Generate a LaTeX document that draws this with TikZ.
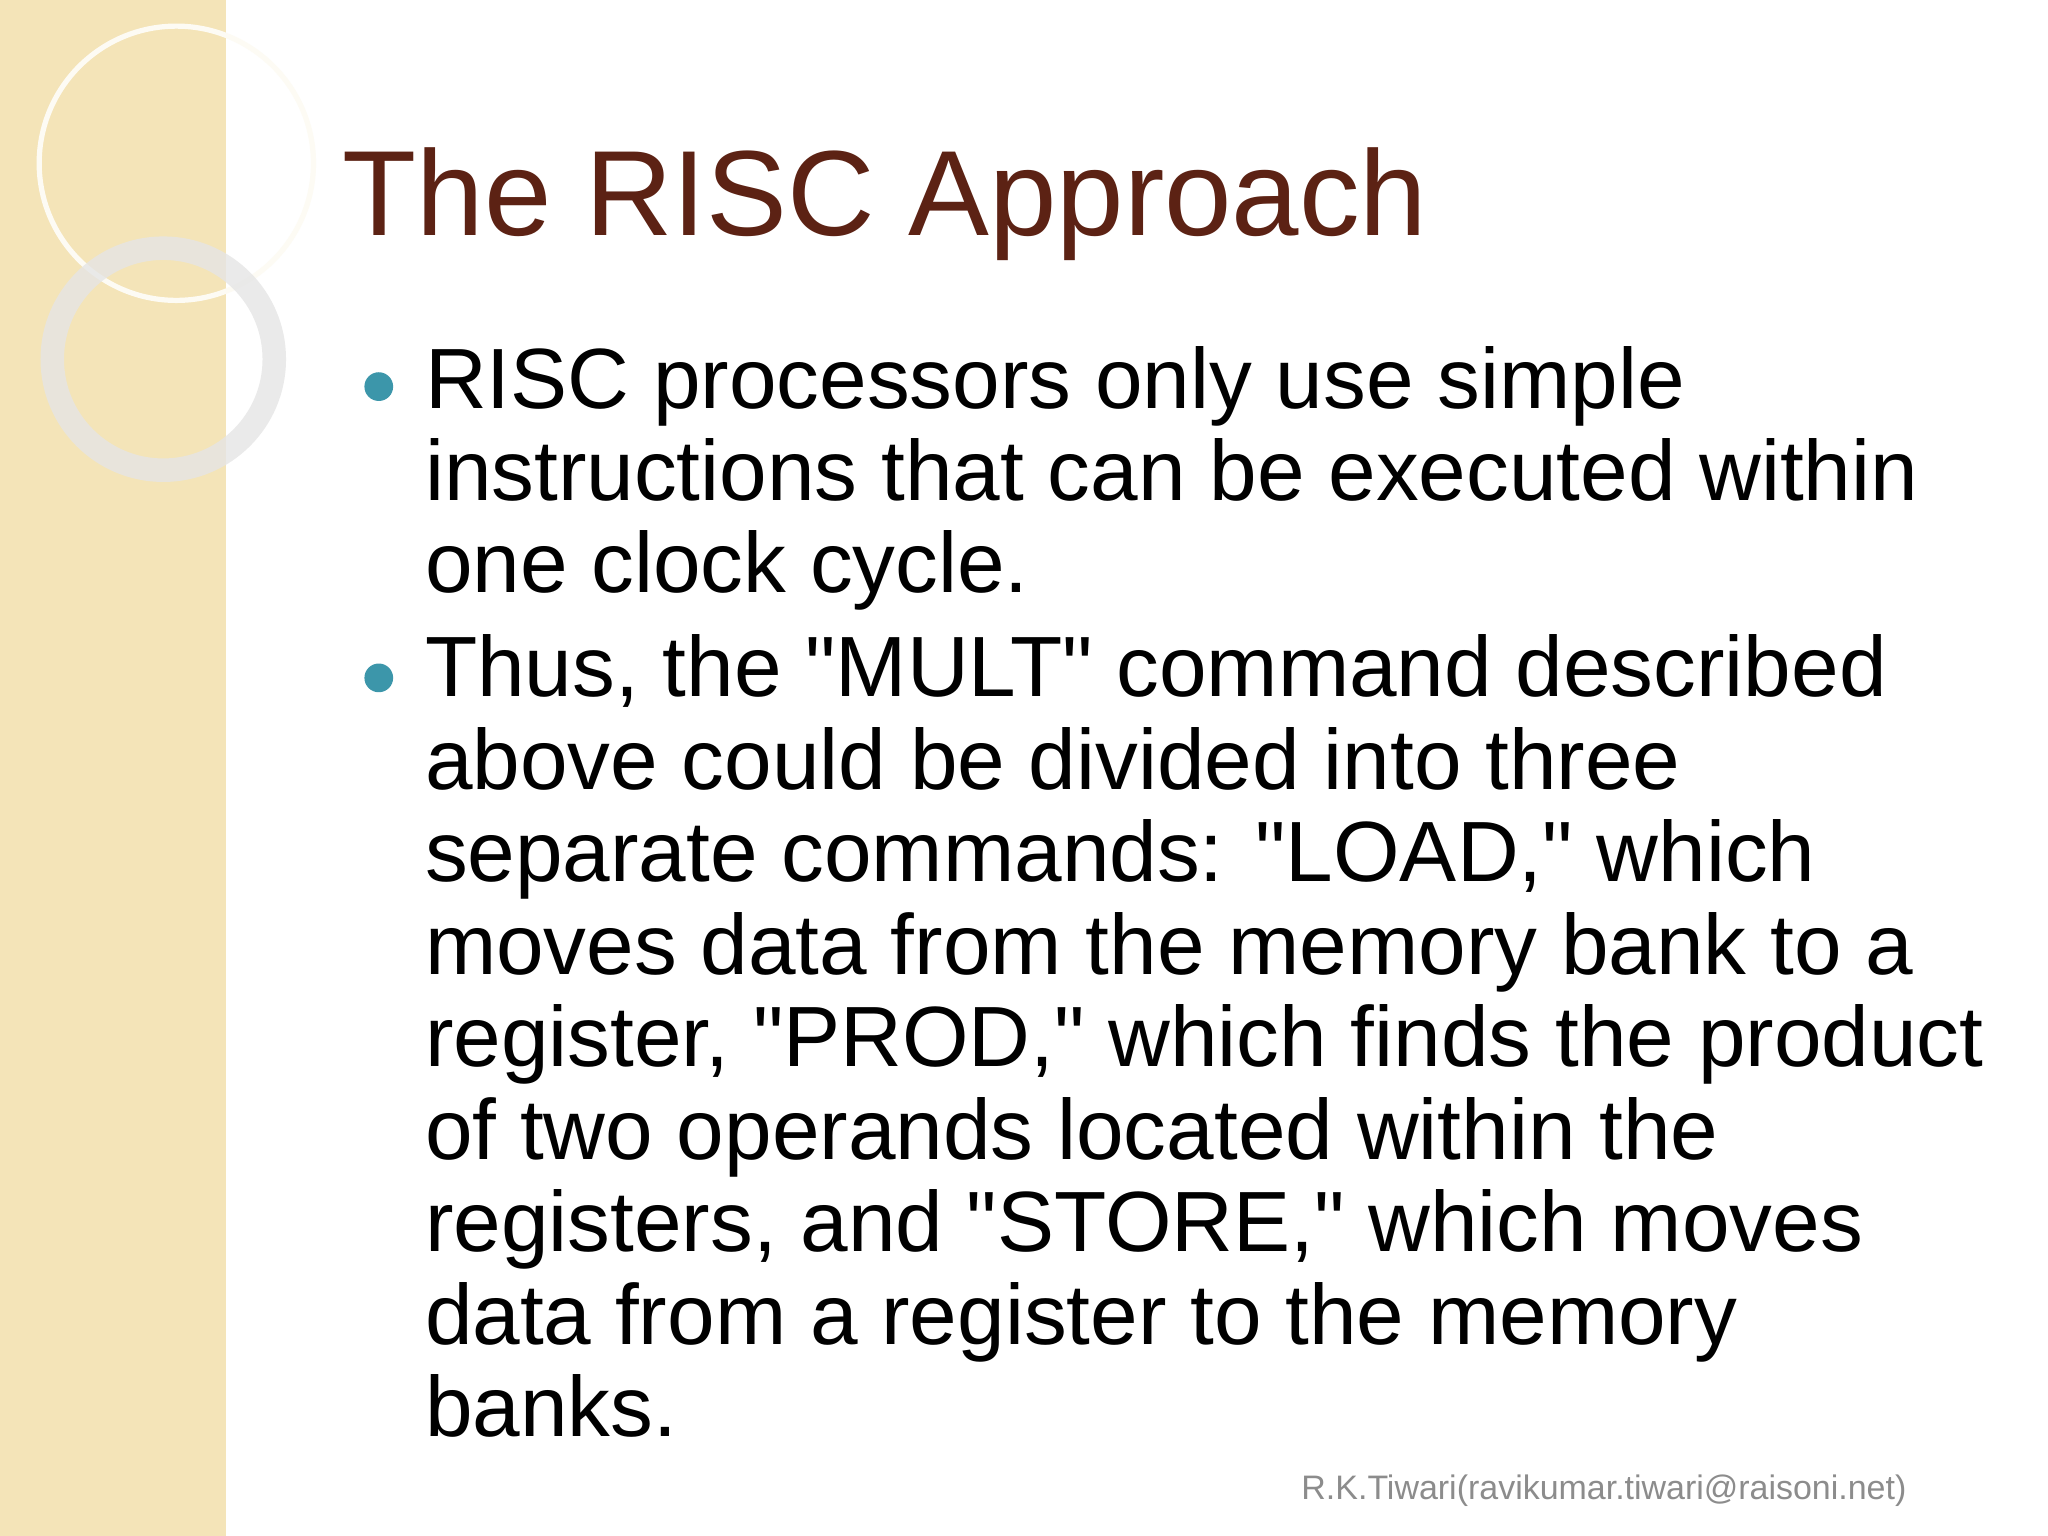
\documentclass[tikz,border=0pt]{standalone}
\usepackage{fontspec}
\setmainfont{Liberation Sans}[Ligatures=TeXOff]
\definecolor{strip}{RGB}{244,228,184}
\definecolor{titlec}{RGB}{92,34,20}
\definecolor{bulc}{RGB}{60,150,170}
\definecolor{footc}{RGB}{140,140,140}
\tikzset{body/.style={anchor=base west,inner sep=0pt,font=\fontsize{32.75}{35.4}\selectfont,align=left},
bul/.style={circle,fill=bulc,inner sep=0pt,minimum size=11pt}}
\begin{document}
\begin{tikzpicture}[x=0.5pt,y=-0.5pt]
\useasboundingbox (0,0) rectangle (1568,1176);
\fill[white] (0,0) rectangle (1568,1176);
\fill[strip] (0,0) rectangle (173,1176);
\draw[white!85!strip,line width=2pt] (135,125) circle (105);
\draw[white!80!gray,line width=9pt,opacity=0.8] (125,275) circle (85);
\node[anchor=base west,inner sep=0pt,text=titlec,font=\fontsize{46.4}{50}\selectfont] (title) at (262,180) {The RISC Approach};
\node[bul] (b1) at (290,296) {};
\node[body] (t1) at (325,454) {RISC processors only use simple\\instructions that can be executed within\\one clock cycle.};
\node[bul] (b2) at (290,519) {};
\node[body] (t2) at (325,1100) {Thus, the "MULT" command described\\above could be divided into three\\separate commands: "LOAD," which\\moves data from the memory bank to a\\register, "PROD," which finds the product\\of two operands located within the\\registers, and "STORE," which moves\\data from a register to the memory\\banks.};
\node[anchor=base east,inner sep=0pt,text=footc,font=\fontsize{13}{14}\selectfont] (foot) at (1460,1148) {R.K.Tiwari(ravikumar.tiwari@raisoni.net)};
\end{tikzpicture}
\end{document}
